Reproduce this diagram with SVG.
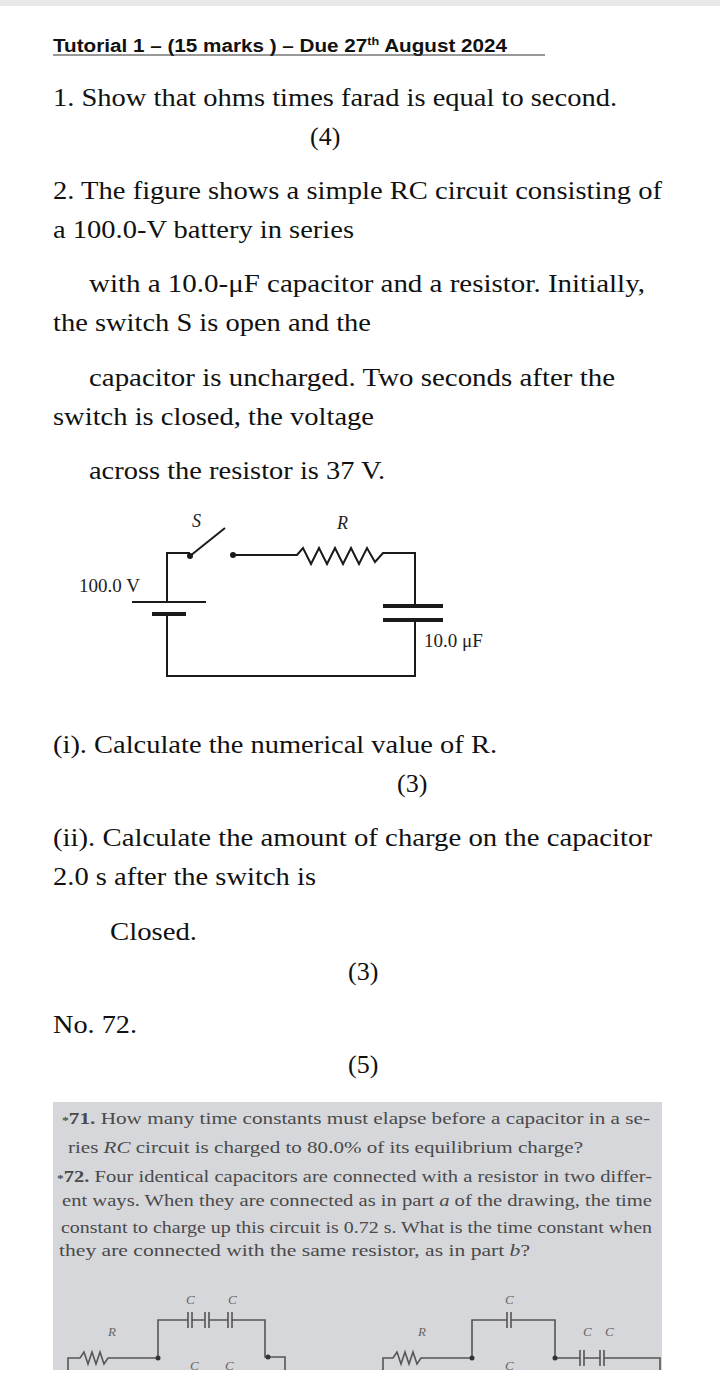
<svg xmlns="http://www.w3.org/2000/svg" width="720" height="1384" viewBox="0 0 720 1384">
<style>
.t{font-family:"Liberation Serif","Times New Roman",serif;font-size:26px;fill:#111}
.c{font-family:"Liberation Serif",serif;fill:#222}
.g{font-family:"Liberation Serif",serif;font-size:17px;fill:#4a4a4a}
.w{stroke:#1a1a1a;stroke-width:2;fill:none}
.gw{stroke:#555;stroke-width:1.6;fill:none}
.gl{font-family:"Liberation Serif",serif;font-size:13px;fill:#666;font-style:italic}
</style>
<rect width="720" height="1384" fill="#fff"/>
<rect width="720" height="6" fill="#e8e8e8"/>
<g id="text">
<text x="53" y="52" font-family="Liberation Sans,sans-serif" font-size="18" font-weight="bold" fill="#111" textLength="454" lengthAdjust="spacingAndGlyphs">Tutorial 1 – (15 marks ) – Due 27<tspan font-size="11" dy="-7">th</tspan><tspan dy="7"> August 2024</tspan></text>
<line x1="53" y1="55" x2="545" y2="55" stroke="#333" stroke-width="1"/>
<text class="t" x="53" y="106" textLength="564" lengthAdjust="spacingAndGlyphs">1. Show that ohms times farad is equal to second.</text>
<text class="t" x="310" y="145">(4)</text>
<text class="t" x="53" y="199" textLength="609" lengthAdjust="spacingAndGlyphs">2. The figure shows a simple RC circuit consisting of</text>
<text class="t" x="53" y="238" textLength="301" lengthAdjust="spacingAndGlyphs">a 100.0-V battery in series</text>
<text class="t" x="89" y="292" textLength="556" lengthAdjust="spacingAndGlyphs">with a 10.0-μF capacitor and a resistor.  Initially,</text>
<text class="t" x="53" y="331" textLength="318" lengthAdjust="spacingAndGlyphs">the switch S is open and the</text>
<text class="t" x="89" y="386" textLength="526" lengthAdjust="spacingAndGlyphs">capacitor is uncharged.  Two seconds after the</text>
<text class="t" x="53" y="425" textLength="321" lengthAdjust="spacingAndGlyphs">switch is closed, the voltage</text>
<text class="t" x="89" y="479" textLength="296" lengthAdjust="spacingAndGlyphs">across the resistor is 37 V.</text>
<text class="t" x="53" y="753" textLength="444" lengthAdjust="spacingAndGlyphs">(i). Calculate the numerical value of R.</text>
<text class="t" x="397" y="792">(3)</text>
<text class="t" x="53" y="846" textLength="599" lengthAdjust="spacingAndGlyphs">(ii). Calculate the amount of charge on the capacitor</text>
<text class="t" x="53" y="885" textLength="263" lengthAdjust="spacingAndGlyphs">2.0 s after the switch is</text>
<text class="t" x="110" y="940" textLength="87" lengthAdjust="spacingAndGlyphs">Closed.</text>
<text class="t" x="348" y="980">(3)</text>
<text class="t" x="53" y="1033" textLength="84" lengthAdjust="spacingAndGlyphs">No. 72.</text>
<text class="t" x="348" y="1073">(5)</text>
</g>
<g id="circuit">
<path class="w" d="M167 602V553H190M190 556L225 528M233 555H297L303 548L311 564L319 548L327 564L335 548L343 564L351 548L359 564L367 548L375 562L383 553H415V606M415 620V676H167V614"/>
<circle cx="190" cy="556" r="3" fill="#1a1a1a"/>
<circle cx="233" cy="555" r="3" fill="#1a1a1a"/>
<line x1="132" y1="602" x2="206" y2="602" stroke="#1a1a1a" stroke-width="2"/>
<line x1="152" y1="614" x2="186" y2="614" stroke="#1a1a1a" stroke-width="4"/>
<line x1="383" y1="606" x2="443" y2="606" stroke="#1a1a1a" stroke-width="4"/>
<line x1="383" y1="620" x2="443" y2="620" stroke="#1a1a1a" stroke-width="4"/>
<text class="c" x="192" y="527" font-size="18" font-style="italic">S</text>
<text class="c" x="337" y="529" font-size="18" font-style="italic">R</text>
<text class="c" x="79" y="592" font-size="19">100.0 V</text>
<text class="c" x="424" y="647" font-size="19">10.0 μF</text>
</g>
<g id="book">
<rect x="53" y="1102" width="609" height="268" fill="#d6d7db"/>
<text class="g" x="62" y="1124" textLength="588" lengthAdjust="spacingAndGlyphs"><tspan font-weight="bold" font-size="11">*</tspan><tspan font-weight="bold">71.</tspan> How many time constants must elapse before a capacitor in a se-</text>
<text class="g" x="68" y="1153" textLength="515" lengthAdjust="spacingAndGlyphs">ries <tspan font-style="italic">RC</tspan> circuit is charged to 80.0% of its equilibrium charge?</text>
<text class="g" x="57" y="1182" textLength="595" lengthAdjust="spacingAndGlyphs"><tspan font-weight="bold" font-size="11">*</tspan><tspan font-weight="bold">72.</tspan> Four identical capacitors are connected with a resistor in two differ-</text>
<text class="g" x="62" y="1206" textLength="590" lengthAdjust="spacingAndGlyphs">ent ways. When they are connected as in part <tspan font-style="italic">a</tspan> of the drawing, the time</text>
<text class="g" x="61" y="1233" textLength="591" lengthAdjust="spacingAndGlyphs">constant to charge up this circuit is 0.72 s. What is the time constant when</text>
<text class="g" x="59" y="1256" textLength="471" lengthAdjust="spacingAndGlyphs">they are connected with the same resistor, as in part <tspan font-style="italic">b</tspan>?</text>
<path class="gw" d="M68 1370V1358H80L84 1352L88 1364L92 1352L96 1364L100 1352L104 1364L108 1358H158M158 1358V1320H188M192 1320H205M209 1320H228M232 1320H265V1357H285V1370"/>
<path class="gw" d="M188 1312V1328M192 1312V1328M205 1312V1328M209 1312V1328M228 1312V1328M232 1312V1328"/>
<circle cx="158" cy="1358" r="2.5" fill="#333"/>
<circle cx="268" cy="1357" r="2.5" fill="#333"/>
<text class="gl" x="108" y="1336">R</text>
<text class="gl" x="186" y="1304">C</text>
<text class="gl" x="228" y="1304">C</text>
<text class="gl" x="190" y="1370">C</text>
<text class="gl" x="225" y="1370">C</text>
<path class="gw" d="M383 1370V1358H393L397 1352L401 1364L405 1352L409 1364L413 1352L417 1364L421 1358H472V1320H507M511 1320H555V1358H580M584 1358H600M604 1358H660V1370"/>
<path class="gw" d="M507 1312V1328M511 1312V1328M580 1350V1366M584 1350V1366M600 1350V1366M604 1350V1366"/>
<circle cx="472" cy="1358" r="2.5" fill="#333"/>
<circle cx="555" cy="1358" r="2.5" fill="#333"/>
<text class="gl" x="418" y="1336">R</text>
<text class="gl" x="505" y="1304">C</text>
<text class="gl" x="583" y="1336">C</text>
<text class="gl" x="605" y="1336">C</text>
<text class="gl" x="505" y="1370">C</text>
</g>
</svg>
